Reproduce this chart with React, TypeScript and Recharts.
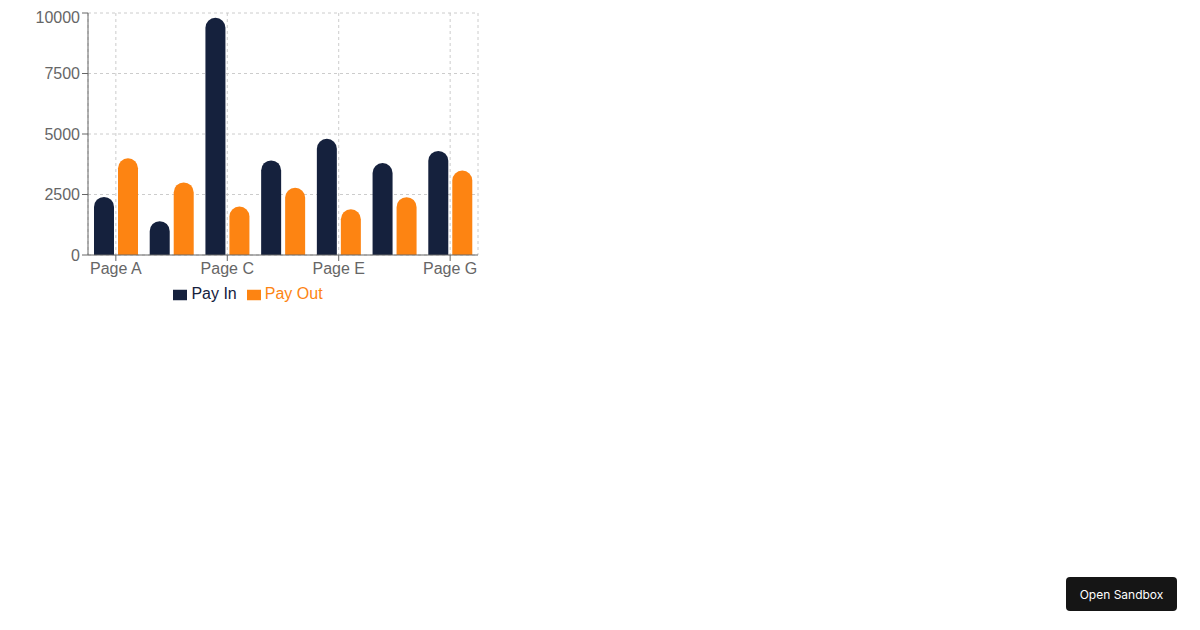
import React from "react";
import { BarChart, Bar, XAxis, YAxis, CartesianGrid, Legend } from "recharts";

const categories = ["Page A", "Page B", "Page C", "Page D", "Page E", "Page F", "Page G"];
const payIn = [2400, 1398, 9800, 3908, 4800, 3800, 4300];
const payOut = [4000, 3000, 2000, 2780, 1890, 2390, 3490];

const data = categories.map((name, i) => ({ name, payIn: payIn[i], payOut: payOut[i] }));

export default function App() {
  return (
    <div style={{ fontFamily: "'Liberation Sans', Arial, sans-serif" }}>
      <BarChart
        width={500}
        height={300}
        data={data}
        margin={{ top: 5, right: 30, left: 20, bottom: 5 }}
      >
        <CartesianGrid strokeDasharray="3 3" />
        <XAxis dataKey="name" interval={1} />
        <YAxis />
        <Legend />
        <Bar dataKey="payIn" name="Pay In" fill="#15213d" barSize={20} radius={[10, 10, 0, 0]} isAnimationActive={false} />
        <Bar dataKey="payOut" name="Pay Out" fill="#fd8412" barSize={20} radius={[10, 10, 0, 0]} isAnimationActive={false} />
      </BarChart>
      <div
        style={{
          position: "fixed",
          left: 1066,
          top: 577,
          width: 111,
          height: 34,
          background: "#151515",
          color: "#fff",
          borderRadius: 4,
          fontFamily: "Inter, sans-serif",
          fontSize: 12,
          display: "flex",
          alignItems: "center",
          justifyContent: "center",
          boxSizing: "border-box",
        }}
      >
        Open Sandbox
      </div>
    </div>
  );
}
